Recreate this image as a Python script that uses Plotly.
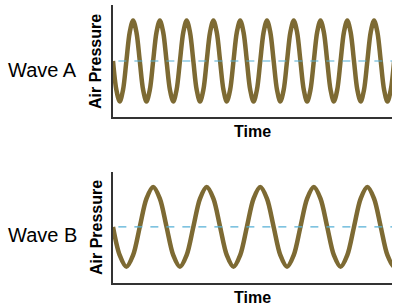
import plotly.graph_objects as go

W, H = 403, 307

# Wave A: 10.5 cycles, sampled at eighth-periods (time in cycles)
a_time = [i / 8 for i in range(0, 85)]
a_pressure = [0, -0.71, -1, -0.71, 0, 0.71, 1, 0.71] * 10 + [0, -0.71, -1, -0.71, 0]
# Wave B: 5.5 cycles
b_time = [i / 8 * 2 for i in range(0, 45)]
b_pressure = [0, -0.71, -1, -0.71, 0, 0.71, 1, 0.71] * 5 + [0, -0.71, -1, -0.71, 0]

wave_labels = ["Wave A", "Wave B"]
x_title = "Time"
y_title = "Air Pressure"

WAVE = "#7d6a33"
DASH = "#55b0d6"
AX = "#333333"

def px_x(x):
    return x / W

def px_y(y):
    return 1 - y / H

fig = go.Figure()

fig.add_trace(go.Scatter(x=a_time, y=a_pressure, mode="lines", line=dict(color=WAVE, width=4.5, shape="spline", smoothing=0.9),
                         xaxis="x", yaxis="y", cliponaxis=False, showlegend=False, hoverinfo="skip"))
fig.add_trace(go.Scatter(x=[0.2, 10.5], y=[0, 0], mode="lines", line=dict(color=DASH, width=1.2, dash="8px,8px"),
                         xaxis="x", yaxis="y", showlegend=False, hoverinfo="skip"))
fig.add_trace(go.Scatter(x=b_time, y=b_pressure, mode="lines", line=dict(color=WAVE, width=4.5, shape="spline", smoothing=0.9),
                         xaxis="x2", yaxis="y2", cliponaxis=False, showlegend=False, hoverinfo="skip"))
fig.add_trace(go.Scatter(x=[0.2, 11], y=[0, 0], mode="lines", line=dict(color=DASH, width=1.2, dash="8px,8px"),
                         xaxis="x2", yaxis="y2", showlegend=False, hoverinfo="skip"))

ax_common = dict(showgrid=False, zeroline=False, showticklabels=False, ticks="",
                 showline=True, linecolor=AX, linewidth=2)

x0, x1 = px_x(113), px_x(392)
fig.update_layout(
    width=W, height=H,
    margin=dict(l=0, r=0, t=0, b=0),
    paper_bgcolor="white", plot_bgcolor="white",
    xaxis=dict(domain=[x0, x1], range=[0, 10.42], anchor="y", **ax_common),
    yaxis=dict(domain=[px_y(117), px_y(5)], range=[-1.38, 1.38], anchor="x", **ax_common),
    xaxis2=dict(domain=[x0, x1], range=[0, 10.42 * 2 * 5.5 / 11], anchor="y2", **ax_common),
    yaxis2=dict(domain=[px_y(283), px_y(172)], range=[-1.41, 1.38], anchor="x2", **ax_common),
)

font_title = dict(family="Liberation Sans, Arial, sans-serif", size=16, color="black")
font_label = dict(family="Liberation Sans, Arial, sans-serif", size=20, color="black")

for label, ycen, ytime, yap in [(wave_labels[0], 70, 131, 62), (wave_labels[1], 235, 297, 228)]:
    fig.add_annotation(text=label, x=px_x(42), y=px_y(ycen), xref="paper", yref="paper",
                       showarrow=False, xanchor="center", yanchor="middle", font=font_label)
    fig.add_annotation(text="<b>" + x_title + "</b>", x=px_x(252), y=px_y(ytime), xref="paper", yref="paper",
                       showarrow=False, xanchor="center", yanchor="middle", font=font_title)
    fig.add_annotation(text="<b>" + y_title + "</b>", x=px_x(96), y=px_y(yap), xref="paper", yref="paper",
                       showarrow=False, xanchor="center", yanchor="middle", textangle=-90, font=font_title)

fig.write_html("out.html")
